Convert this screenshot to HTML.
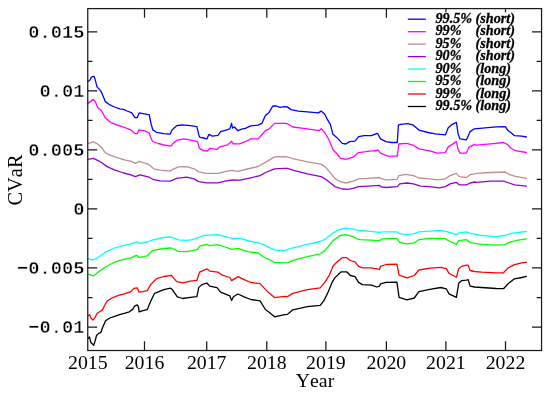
<!DOCTYPE html><html><head><meta charset="utf-8"><style>html,body{margin:0;padding:0;background:#fff;}svg{display:block;}text{font-kerning:none;}</style></head><body>
<svg width="550" height="394" viewBox="0 0 550 394">
<rect width="550" height="394" fill="#fff"/>
<g fill="none" stroke-width="1.3" stroke-linejoin="round" stroke-linecap="round">
<polyline stroke="#0000ff" points="87.9,81.5 89.7,80.5 91.6,76.9 94.0,76.3 95.2,79.6 97.0,86.9 99.8,89.7 101.6,92.4 105.3,101.6 109.0,104.3 114.4,107.0 119.9,108.9 123.6,109.4 127.2,111.0 131.8,112.9 134.9,117.6 137.3,117.6 139.1,112.9 141.8,113.4 147.3,114.4 149.2,114.7 151.0,123.5 152.8,129.9 156.5,132.3 163.8,133.6 170.2,134.1 172.0,129.9 176.6,125.7 182.0,125.0 185.0,125.2 190.5,125.6 196.9,126.7 198.7,134.4 199.6,137.1 203.3,138.0 206.9,138.9 208.8,134.4 212.4,136.2 217.9,135.3 220.6,131.6 225.2,130.3 229.8,128.9 231.6,123.4 232.5,128.0 234.4,127.0 238.0,130.7 241.7,129.2 245.3,128.3 250.8,125.8 258.1,125.2 261.8,123.4 265.4,115.5 269.1,112.4 272.8,106.0 276.4,106.0 280.1,107.3 284.6,106.6 287.3,106.9 291.0,109.6 298.3,111.1 307.4,111.8 318.4,112.9 321.1,111.1 324.8,114.2 327.5,119.7 330.3,124.3 333.0,134.3 336.7,137.4 342.2,143.4 345.8,144.0 349.5,141.6 355.0,141.1 358.6,136.7 364.1,135.6 371.4,135.6 376.9,133.4 377.7,133.8 380.5,138.9 386.0,141.6 391.5,142.5 397.3,142.5 398.4,125.2 400.6,124.3 407.9,123.7 413.4,125.2 418.9,130.1 428.0,132.5 435.3,133.8 445.4,134.9 448.1,127.9 451.8,124.6 456.4,122.4 458.2,134.3 460.0,138.9 466.4,139.8 468.2,136.1 470.1,131.6 474.3,128.8 485.2,127.9 496.2,126.9 505.3,126.6 508.1,130.6 511.7,133.3 514.5,135.7 521.8,136.1 526.4,137.0"/>
<polyline stroke="#ff00ff" points="87.9,103.4 93.4,99.4 95.2,101.6 98.0,108.0 101.6,110.7 105.3,118.0 110.8,122.6 118.1,125.3 123.6,127.2 130.9,129.9 134.9,133.6 137.3,133.6 139.1,129.9 145.5,131.2 149.2,133.0 150.5,137.0 152.5,141.5 158.3,143.5 163.8,145.0 171.1,146.1 172.9,143.5 176.6,140.4 183.9,138.8 191.2,140.2 197.6,141.7 199.4,148.4 203.1,150.3 207.6,151.2 209.5,148.4 216.8,149.4 220.4,146.6 227.8,144.8 231.4,141.1 233.2,143.9 239.6,143.9 247.2,140.8 250.8,138.9 258.1,138.9 265.4,130.7 269.1,128.9 274.6,123.4 284.6,123.4 287.3,123.7 292.8,127.0 307.4,128.8 319.3,130.6 321.1,128.8 324.8,132.5 329.4,140.7 333.0,149.8 336.7,153.5 340.3,158.1 345.8,159.4 353.1,157.2 358.6,152.6 365.9,151.7 371.4,150.8 375.0,150.8 377.7,149.8 380.5,153.1 387.8,156.2 397.3,156.2 398.8,144.0 407.0,143.4 413.4,145.3 418.9,148.9 429.8,150.8 437.2,153.1 445.4,152.6 448.1,147.1 456.4,141.6 458.2,149.8 460.0,153.1 466.4,153.1 469.1,147.1 474.6,144.4 476.1,145.2 490.7,143.8 503.5,142.5 507.2,144.3 510.8,148.0 515.4,150.7 526.4,152.5"/>
<polyline stroke="#bc8f8f" points="87.9,143.7 93.4,141.9 97.1,143.7 101.6,147.4 105.3,152.8 110.8,155.3 118.1,157.8 125.4,160.2 130.9,161.1 135.4,163.3 139.1,161.4 147.3,163.8 150.1,165.6 153.7,168.8 160.1,170.2 170.2,171.1 172.9,169.3 178.4,166.9 186.6,166.6 194.1,168.8 198.7,171.9 206.9,173.4 217.9,173.4 225.2,171.6 231.6,170.4 238.0,171.3 247.2,169.0 258.1,166.5 265.4,162.4 274.6,156.9 284.6,156.6 287.3,156.8 292.8,158.6 307.4,161.9 321.1,164.1 325.7,167.4 331.2,173.8 334.8,178.4 340.3,181.7 345.8,183.0 353.1,181.1 358.6,178.8 367.8,178.4 379.6,177.5 380.5,178.4 386.0,179.9 397.3,179.3 398.8,175.6 406.1,174.4 413.4,175.6 418.9,178.0 429.8,178.8 437.2,179.9 445.4,178.8 450.0,175.6 456.4,173.3 459.1,176.6 466.4,177.5 470.1,174.7 474.6,173.8 476.1,173.3 490.7,172.5 505.3,172.0 509.0,174.4 514.5,176.2 526.4,178.4"/>
<polyline stroke="#9400d3" points="87.9,159.3 93.4,158.3 97.1,160.2 100.7,162.0 107.1,166.6 114.4,169.9 123.6,173.0 130.9,174.8 135.4,176.6 140.0,174.8 149.2,177.2 153.7,179.7 160.1,180.8 170.2,181.2 176.6,178.4 186.6,177.2 194.1,178.9 198.7,181.6 206.9,182.9 217.9,182.9 225.2,181.1 232.5,180.0 239.8,180.2 250.8,177.8 260.0,175.6 265.4,172.5 274.6,168.8 284.6,168.3 287.3,168.3 292.8,170.2 307.4,173.8 321.1,176.6 325.7,179.3 331.2,183.5 334.8,186.6 342.2,189.0 347.6,189.4 353.1,188.4 358.6,186.6 367.8,186.1 379.6,185.3 380.5,186.6 386.0,187.5 397.3,186.6 399.7,183.9 407.0,183.0 413.4,183.9 420.7,186.1 429.8,186.6 439.0,187.9 445.4,186.6 450.0,183.9 456.4,182.4 459.1,184.8 466.4,184.8 470.1,183.0 474.6,182.0 476.1,182.4 490.7,181.1 503.5,181.1 509.0,183.0 514.5,184.8 526.4,186.1"/>
<polyline stroke="#00ffff" points="87.9,258.6 93.4,260.0 98.0,257.6 105.3,252.2 114.4,248.0 123.6,245.3 130.9,243.8 137.3,241.7 140.0,243.6 147.3,242.0 152.8,239.8 163.8,237.5 171.1,237.0 178.4,239.9 186.6,240.3 192.3,239.7 198.7,237.3 203.3,235.5 210.6,235.1 217.9,234.7 225.2,236.6 232.5,238.4 239.8,238.4 249.0,241.0 260.0,243.3 267.3,246.4 274.6,250.1 284.6,250.6 287.3,249.7 292.8,247.9 307.4,244.3 320.2,241.5 325.7,238.8 333.0,232.9 340.3,229.3 345.8,228.2 355.0,229.3 358.6,230.5 367.8,231.1 379.6,232.4 382.3,231.8 396.9,231.8 399.7,233.6 407.0,234.7 414.3,233.6 418.9,231.8 429.8,231.1 440.8,230.5 448.1,231.8 456.4,234.7 459.1,232.9 466.4,231.8 470.1,233.3 474.6,234.2 481.6,235.5 496.2,236.6 505.3,235.5 510.8,233.3 518.1,232.4 526.4,231.5"/>
<polyline stroke="#00ff00" points="87.9,274.1 93.4,275.9 98.0,272.3 105.3,267.0 114.4,262.2 123.6,259.4 130.9,257.8 136.4,255.3 139.1,257.6 147.3,255.8 152.8,250.3 163.8,248.5 171.1,248.0 178.4,251.3 186.6,251.6 192.3,250.6 197.8,249.4 199.6,246.1 206.9,244.3 209.7,245.7 217.9,244.6 225.2,247.0 231.6,249.4 238.0,248.3 249.0,251.9 258.1,253.0 265.4,258.0 270.9,260.3 274.6,262.5 284.6,262.9 287.3,262.9 292.8,260.3 307.4,256.7 320.2,253.8 325.7,249.7 333.0,240.6 340.3,235.5 345.8,234.7 353.1,236.6 356.8,238.8 360.4,239.7 379.6,240.6 382.3,238.8 396.9,238.4 399.7,242.4 407.0,243.9 414.3,242.8 418.9,239.7 429.8,238.4 444.5,238.4 450.0,241.5 456.4,244.3 458.7,240.6 466.4,239.7 470.1,242.4 474.6,243.3 481.6,244.3 496.2,245.2 505.3,244.6 509.0,242.4 518.1,240.2 526.4,238.8"/>
<polyline stroke="#ff0000" points="88.2,315.7 89.5,314.6 90.9,318.0 93.0,320.1 95.1,317.3 97.2,313.2 100.0,311.5 102.1,310.4 104.2,306.2 107.0,301.3 111.1,298.5 115.3,296.7 119.5,295.0 123.6,294.2 130.8,291.6 134.0,288.4 137.2,287.8 139.1,292.2 142.9,291.6 147.3,290.6 151.0,284.1 156.5,278.7 163.8,276.5 171.1,275.3 173.0,277.3 176.7,281.6 182.7,282.9 190.3,281.1 196.9,280.3 199.6,272.1 206.9,268.9 209.7,271.1 217.9,272.1 221.6,274.8 229.8,277.5 231.6,280.6 238.0,276.6 243.5,279.4 250.8,282.5 260.0,283.6 265.4,289.4 269.1,293.1 274.6,297.6 284.6,296.4 287.3,296.7 292.8,293.4 307.4,289.7 320.2,287.9 324.8,282.4 329.4,275.1 333.0,266.3 336.7,262.3 342.2,257.7 346.7,257.7 350.4,260.5 355.0,261.9 358.6,266.3 362.3,267.8 371.4,267.8 379.6,269.3 380.5,266.3 386.0,264.5 396.9,264.1 399.1,275.1 407.0,277.9 414.3,275.5 418.9,270.0 429.8,268.2 440.8,267.4 446.3,268.7 449.0,273.3 456.4,277.3 458.7,268.7 461.8,266.3 466.4,265.1 468.2,265.1 470.1,270.5 474.6,271.5 481.6,272.1 496.2,272.8 503.5,272.8 508.1,267.9 514.5,264.7 521.8,262.9 526.4,262.4"/>
<polyline stroke="#000000" points="88.2,338.3 89.5,336.9 90.9,342.5 93.7,345.3 95.1,341.1 96.5,335.5 98.6,333.4 100.7,332.7 102.8,327.1 105.6,320.8 109.7,318.0 113.9,316.6 119.5,314.6 125.1,313.2 129.3,311.8 132.7,309.4 134.6,306.2 137.2,304.9 138.5,306.8 139.1,311.9 142.9,310.7 147.3,309.6 151.0,300.6 154.6,293.3 163.8,289.6 170.7,288.2 172.4,289.8 175.1,293.6 177.3,296.9 182.7,298.5 190.3,297.4 196.9,296.7 198.7,287.6 201.5,284.9 206.9,283.0 209.7,286.1 217.0,287.6 220.6,292.2 229.8,295.8 231.6,300.4 233.4,296.7 238.0,294.0 243.5,296.7 250.8,299.5 260.0,300.8 265.4,309.5 269.1,312.3 274.6,316.8 284.6,314.7 287.3,314.4 292.8,309.8 307.4,306.6 320.2,305.3 323.9,300.7 327.5,293.4 332.1,282.4 334.8,277.9 341.2,271.8 346.7,271.8 350.4,275.5 355.0,276.6 358.6,282.4 362.3,284.6 371.4,285.2 376.9,287.0 379.6,286.1 380.5,283.9 386.0,282.4 396.9,282.1 399.1,297.4 407.0,299.8 414.3,298.0 418.9,291.6 429.8,289.4 440.8,287.5 446.3,288.8 449.0,293.8 456.4,297.4 458.7,283.3 461.8,280.6 466.4,280.2 468.2,279.7 470.1,286.1 474.6,287.0 481.6,287.5 496.2,288.5 503.5,288.7 508.1,283.8 514.5,278.8 521.8,277.5 526.4,276.4"/>
</g>
<path d="M144.5 350.55V341.35M144.5 8.6V17.799999999999997M206.7 350.55V341.35M206.7 8.6V17.799999999999997M266.8 350.55V341.35M266.8 8.6V17.799999999999997M325.9 350.55V341.35M325.9 8.6V17.799999999999997M386.4 350.55V341.35M386.4 8.6V17.799999999999997M445.9 350.55V341.35M445.9 8.6V17.799999999999997M505.5 350.55V341.35M505.5 8.6V17.799999999999997M87.75 327.0H97.25M541.5 327.0H532.0M87.75 297.5H92.55M541.5 297.5H536.7M87.75 267.9H97.25M541.5 267.9H532.0M87.75 238.4H92.55M541.5 238.4H536.7M87.75 208.9H97.25M541.5 208.9H532.0M87.75 179.4H92.55M541.5 179.4H536.7M87.75 149.9H97.25M541.5 149.9H532.0M87.75 120.3H92.55M541.5 120.3H536.7M87.75 90.8H97.25M541.5 90.8H532.0M87.75 61.3H92.55M541.5 61.3H536.7M87.75 31.8H97.25M541.5 31.8H532.0" stroke="#1a1a1a" stroke-width="1.25" fill="none"/>
<rect x="87.75" y="8.6" width="453.8" height="341.9" fill="none" stroke="#1a1a1a" stroke-width="1.25"/>
<g font-family="Liberation Mono, monospace" font-weight="bold" font-size="18.75" text-anchor="end" stroke="#fff" stroke-width="0.45">
<text x="84.6" y="38.2">0.015</text>
<text x="84.6" y="97.3">0.01</text>
<text x="84.6" y="156.3">0.005</text>
<text x="84.6" y="215.3">0</text>
<text x="84.6" y="274.4">&#8722;0.005</text>
<text x="84.6" y="333.4">&#8722;0.01</text>
</g>
<g font-family="Liberation Serif, serif" font-size="19.8" text-anchor="middle">
<text x="87.8" y="368.6">2015</text>
<text x="144.5" y="368.6">2016</text>
<text x="206.7" y="368.6">2017</text>
<text x="266.8" y="368.6">2018</text>
<text x="325.9" y="368.6">2019</text>
<text x="386.4" y="368.6">2020</text>
<text x="445.9" y="368.6">2021</text>
<text x="505.5" y="368.6">2022</text>
<text x="315" y="387">Year</text>
<text transform="translate(22,180.0) rotate(-90)" font-size="20.4">CVaR</text>
</g>
<rect x="396" y="12.3" width="128" height="104" fill="#fff"/>
<g font-family="Liberation Serif, serif" font-size="14.2" font-weight="bold" font-style="italic" stroke="#000" stroke-width="0.3">
<path d="M407.8 19.2H425.9" stroke="#0000ff" stroke-width="1.3"/>
<text x="435.5" y="22.9">99.5%</text><text x="475.5" y="22.9">(short)</text>
<path d="M407.8 31.7H425.9" stroke="#ff00ff" stroke-width="1.3"/>
<text x="435.5" y="35.4">99%</text><text x="475.5" y="35.4">(short)</text>
<path d="M407.8 44.1H425.9" stroke="#bc8f8f" stroke-width="1.3"/>
<text x="435.5" y="47.8">95%</text><text x="475.5" y="47.8">(short)</text>
<path d="M407.8 56.6H425.9" stroke="#9400d3" stroke-width="1.3"/>
<text x="435.5" y="60.3">90%</text><text x="475.5" y="60.3">(short)</text>
<path d="M407.8 69.1H425.9" stroke="#00ffff" stroke-width="1.3"/>
<text x="435.5" y="72.8">90%</text><text x="475.5" y="72.8">(long)</text>
<path d="M407.8 81.5H425.9" stroke="#00ff00" stroke-width="1.3"/>
<text x="435.5" y="85.2">95%</text><text x="475.5" y="85.2">(long)</text>
<path d="M407.8 94.0H425.9" stroke="#ff0000" stroke-width="1.3"/>
<text x="435.5" y="97.7">99%</text><text x="475.5" y="97.7">(long)</text>
<path d="M407.8 106.5H425.9" stroke="#000000" stroke-width="1.3"/>
<text x="435.5" y="110.2">99.5%</text><text x="475.5" y="110.2">(long)</text>
</g>
</svg></body></html>
